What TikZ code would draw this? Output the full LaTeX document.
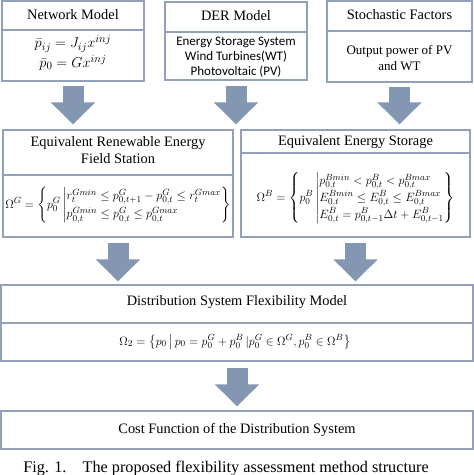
\documentclass[tikz,border=0pt]{standalone}
\usepackage{fontspec}
\setmainfont{Liberation Serif}
\newfontfamily\carlito{Carlito}
\usepackage{amsmath}
\usetikzlibrary{arrows.meta,calc}
\definecolor{bord}{RGB}{146,160,188}
\definecolor{arr}{RGB}{132,151,178}
\tikzset{
  box/.style={draw=bord, line width=1.2pt, fill=white, inner sep=0pt},
  divl/.style={draw=bord, line width=1.2pt},
  ttl/.style={font=\fontsize{14.4}{16.5}\selectfont, align=center, inner sep=0pt},
  body/.style={align=center, inner sep=0pt},
  blk/.style={draw=arr, line width=21pt, -{Triangle[width=43pt,length=22pt]}, line cap=butt},
}
\begin{document}
\begin{tikzpicture}[x=1pt,y=-1pt]
\useasboundingbox (0,0) rectangle (474,475);
% top row
\node[box, minimum width=142pt, minimum height=80pt] (net) at (73,41) {};
\node[box, minimum width=142pt, minimum height=78pt] (der) at (236,41) {};
\node[box, minimum width=145pt, minimum height=81pt] (sto) at (399.5,41.5) {};
\draw[divl] (net.west |- 0,30) -- (net.east |- 0,30);
\draw[divl] (der.west |- 0,32) -- (der.east |- 0,32);
\draw[divl] (sto.west |- 0,31) -- (sto.east |- 0,31);
\node[ttl] (netT) at (73,15) {Network Model};
\node[ttl] (derT) at (236,16) {DER Model};
\node[ttl] (stoT) at (399.5,15) {Stochastic Factors};
\node[body, font=\fontsize{15}{20}\selectfont] (netB) at (73,53) {$\bar{p}_{ij} = J_{ij}x^{inj}$\\ $\bar{p}_0 = Gx^{inj}$};
\node[body, font=\carlito\fontsize{13}{15}\selectfont] (derB) at (236,57) {Energy Storage System\\ Wind Turbines(WT)\\ Photovoltaic (PV)};
\node[body, font=\fontsize{13}{15.5}\selectfont] (stoB) at (399.5,58) {Output power of PV\\ and WT};
% middle row
\node[box, minimum width=230pt, minimum height=107pt] (erf) at (118,183.5) {};
\node[box, minimum width=229pt, minimum height=107pt] (ees) at (355.5,183.5) {};
\draw[divl] (erf.west |- 0,175) -- (erf.east |- 0,175);
\draw[divl] (ees.west |- 0,153) -- (ees.east |- 0,153);
\node[ttl] (erfT) at (118,150) {Equivalent Renewable Energy\\ Field Station};
\node[ttl] (eesT) at (355.5,142) {Equivalent Energy Storage};
\node[body, font=\fontsize{12.2}{14}\selectfont] (erfB) at (118,205) {\renewcommand{\arraystretch}{1.3}$\Omega^{G}=\left\{p_0^{G}\,\middle|\begin{array}{@{}l@{}}
 r_t^{Gmin}\le p_{0,t+1}^{G}-p_{0,t}^{G}\le r_t^{Gmax}\\
 p_{0,t}^{Gmin}\le p_{0,t}^{G}\le p_{0,t}^{Gmax}
 \end{array}\right\}$};
\node[body, font=\fontsize{12.3}{14}\selectfont] (eesB) at (355.5,198) {\renewcommand{\arraystretch}{1.2}$\Omega^{B}=\left\{p_0^{B}\,\middle|\begin{array}{@{}l@{}}
 p_{0,t}^{Bmin}< p_{0,t}^{B}< p_{0,t}^{Bmax}\\
 E_{0,t}^{Bmin}\le E_{0,t}^{B}\le E_{0,t}^{Bmax}\\
 E_{0,t}^{B}= p_{0,t-1}^{B}\Delta t+E_{0,t-1}^{B}
 \end{array}\right\}$};
% flexibility model
\node[box, minimum width=472pt, minimum height=76pt] (flex) at (237,323) {};
\draw[divl] (flex.west |- 0,323) -- (flex.east |- 0,323);
\node[ttl] (flexT) at (237,302) {Distribution System Flexibility Model};
\node[body, font=\fontsize{12.6}{14}\selectfont] (flexB) at (235,342) {$\Omega_{2}=\left\{p_0\,\middle|\,p_0=p_0^{G}+p_0^{B}\,|p_0^{G}\in\Omega^{G},p_0^{B}\in\Omega^{B}\right\}$};
% cost
\node[box, minimum width=472pt, minimum height=38pt] (cost) at (237,430) {};
\node[ttl] (costT) at (237,430) {Cost Function of the Distribution System};
% caption
\node[ttl, font=\fontsize{16.2}{18}\selectfont, anchor=base] (cap) at (226,472) {Fig. 1.\quad The proposed flexibility assessment method structure};
% arrows
\draw[blk] ([yshift=-4pt]net.south) -- ([yshift=5pt]net.south |- erf.north);
\draw[blk] ([yshift=-5pt]der.south) -- ([yshift=5pt]der.south |- erf.north);
\draw[blk] ([yshift=-4pt]sto.south) -- ([yshift=5pt]sto.south |- ees.north);
\draw[blk] ([yshift=-5pt]erf.south) -- ([yshift=3pt]erf.south |- flex.north);
\draw[blk] ([yshift=-5pt]ees.south) -- ([yshift=3pt]ees.south |- flex.north);
\draw[blk] ([yshift=-6pt]flex.south) -- ([yshift=4pt]flex.south |- cost.north);
\end{tikzpicture}
\end{document}
